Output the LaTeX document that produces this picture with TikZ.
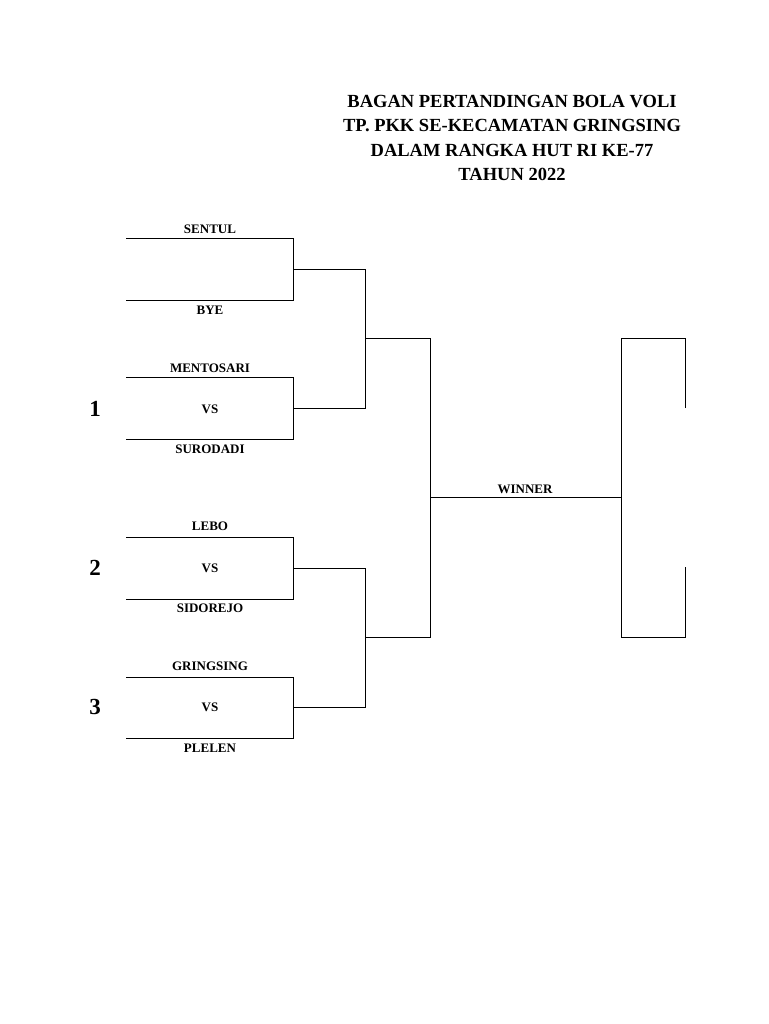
\documentclass[tikz,border=0pt]{standalone}
\usepackage{fontspec}
\setmainfont{Liberation Serif}
\begin{document}
\begin{tikzpicture}[x=1pt,y=-1pt,
 ln/.style={line width=0.8pt},
 lab/.style={font=\bfseries\fontsize{13}{15}\selectfont},
 ttl/.style={font=\bfseries\fontsize{18.5}{24.3}\selectfont,align=center},
 num/.style={font=\bfseries\fontsize{23}{26}\selectfont}]
\useasboundingbox (0,0) rectangle (768,1024);
\node[ttl] (title) at (512,138) {BAGAN PERTANDINGAN BOLA VOLI\\TP. PKK SE-KECAMATAN GRINGSING\\DALAM RANGKA HUT RI KE-77\\TAHUN 2022};
% first round brackets
\foreach \n/\t/\b in {a/238/300,b/377/439,c/537/599,d/677/738}{
  \draw[ln] (126,\t) -- (293,\t) -- (293,\b) -- (126,\b);
}
\node[lab] (sentul) at (210,229) {SENTUL};
\node[lab] (bye) at (210,310) {BYE};
\node[lab] (mento) at (210,368) {MENTOSARI};
\node[lab] (vs1) at (210,409) {VS};
\node[lab] (suro) at (210,449) {SURODADI};
\node[lab] (lebo) at (210,526) {LEBO};
\node[lab] (vs2) at (210,568) {VS};
\node[lab] (sido) at (210,608) {SIDOREJO};
\node[lab] (gring) at (210,666) {GRINGSING};
\node[lab] (vs3) at (210,707) {VS};
\node[lab] (plelen) at (210,748) {PLELEN};
\node[num] (n1) at (95,409) {1};
\node[num] (n2) at (95,568) {2};
\node[num] (n3) at (95,707) {3};
% second round
\draw[ln] (293,269) -- (365,269) -- (365,408) -- (293,408);
\draw[ln] (293,568) -- (365,568) -- (365,707) -- (293,707);
% semi
\draw[ln] (365,338) -- (430,338) -- (430,637) -- (365,637);
\draw[ln] (430,497) -- (621,497);
\node[lab] (win) at (525,489) {WINNER};
% right
\draw[ln] (685,408) -- (685,338) -- (621,338) -- (621,637) -- (685,637) -- (685,567);
\end{tikzpicture}
\end{document}
